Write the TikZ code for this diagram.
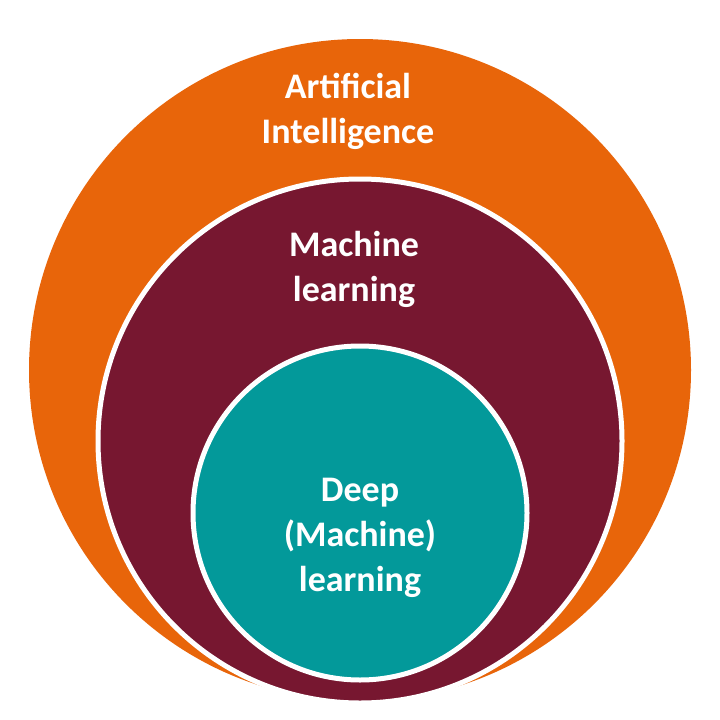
\documentclass[tikz,border=0pt]{standalone}
\usepackage{fontspec}
\setmainfont{Carlito}
\definecolor{aiorange}{HTML}{E8650A}
\definecolor{mlred}{HTML}{771730}
\definecolor{dlteal}{HTML}{03999A}
\begin{document}
\begin{tikzpicture}[x=1pt,y=-1pt,
  ring/.style={draw=white,line width=5pt},
  lbl/.style={text=white,font=\fontsize{36}{45}\selectfont\bfseries,align=center}]
\useasboundingbox[fill=white] (0,0) rectangle (720,720);
\fill[aiorange] (360,370) circle (331);
\path[ring,fill=mlred] (360,441) circle (262);
\path[ring,fill=dlteal] (360,513) circle (167);
\node[lbl] (ai) at (348,111) {Artificial\\Intelligence};
\node[lbl] (ml) at (354,269) {Machine\\learning};
\node[lbl] (dl) at (360,538) {Deep\\(Machine)\\learning};
\end{tikzpicture}
\end{document}
